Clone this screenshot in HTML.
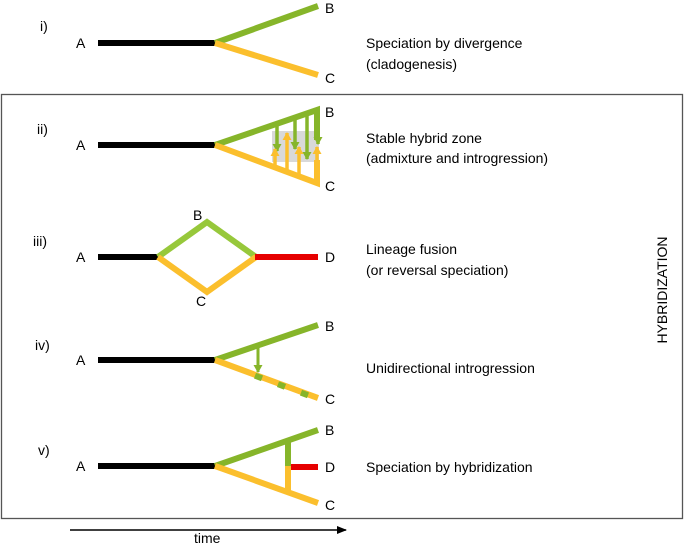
<!DOCTYPE html>
<html><head><style>
body{margin:0;background:#fff;}
svg text{font-family:"Liberation Sans",sans-serif;font-size:14px;fill:#000;}
</style></head><body>
<svg width="685" height="544" viewBox="0 0 685 544" xmlns="http://www.w3.org/2000/svg">
<defs>
<marker id="ag" markerWidth="8" markerHeight="9" refX="7" refY="4.5" orient="auto" markerUnits="userSpaceOnUse"><path d="M0,0 L8,4.5 L0,9 z" fill="#86b52a"/></marker>
<marker id="ay" markerWidth="8" markerHeight="9" refX="7" refY="4.5" orient="auto" markerUnits="userSpaceOnUse"><path d="M0,0 L8,4.5 L0,9 z" fill="#fbbf2d"/></marker>
<marker id="ak" markerWidth="10" markerHeight="8" refX="9" refY="4" orient="auto" markerUnits="userSpaceOnUse"><path d="M0,0 L10,4 L0,8 z" fill="#000"/></marker>
</defs>
<rect x="1.5" y="94.5" width="681" height="424" fill="none" stroke="#555" stroke-width="1.3"/>
<g stroke-width="6" fill="none" stroke-linecap="butt">
<!-- i -->
<line x1="98" y1="43" x2="216" y2="43" stroke="#000"/>
<line x1="215" y1="43" x2="318" y2="6" stroke="#86b52a"/>
<line x1="215" y1="43" x2="318" y2="75" stroke="#fbbf2d"/>
<!-- ii -->
<rect x="272" y="131" width="47" height="31" fill="#d9d9d9" stroke="none"/>
<line x1="98" y1="145" x2="216" y2="145" stroke="#000"/>
<polyline points="215,145 317,110 317,140" stroke="#86b52a"/>
<polyline points="215,145 317,183 317,160" stroke="#fbbf2d"/>
<g stroke-width="3.5">
<line x1="277" y1="124" x2="277" y2="151" stroke="#86b52a" marker-end="url(#ag)"/>
<line x1="295" y1="118" x2="295" y2="149" stroke="#86b52a" marker-end="url(#ag)"/>
<line x1="307" y1="114" x2="307" y2="159" stroke="#86b52a" marker-end="url(#ag)"/>
<line x1="318" y1="130" x2="318" y2="144" stroke="#86b52a" marker-end="url(#ag)"/>
<line x1="275" y1="166" x2="275" y2="149" stroke="#fbbf2d" marker-end="url(#ay)"/>
<line x1="287" y1="170" x2="287" y2="133" stroke="#fbbf2d" marker-end="url(#ay)"/>
<line x1="299" y1="175" x2="299" y2="147" stroke="#fbbf2d" marker-end="url(#ay)"/>
<line x1="317" y1="170" x2="317" y2="147" stroke="#fbbf2d" marker-end="url(#ay)"/>
</g>
<!-- iii -->
<line x1="98" y1="257" x2="159" y2="257" stroke="#000"/>
<polyline points="158,257 207,222 256,257" stroke="#97c83b"/>
<polyline points="158,257 207,292 256,257" stroke="#fbbf2d"/>
<line x1="255" y1="257" x2="318" y2="257" stroke="#e60000"/>
<!-- iv -->
<line x1="98" y1="360" x2="216" y2="360" stroke="#000"/>
<line x1="215" y1="360" x2="318" y2="325" stroke="#86b52a"/>
<line x1="215" y1="360" x2="318" y2="398" stroke="#fbbf2d"/>
<line x1="258" y1="346" x2="258" y2="372" stroke="#86b52a" stroke-width="3" marker-end="url(#ag)"/>
<g stroke="#86b52a">
<line x1="255" y1="375.7" x2="262" y2="378.3"/>
<line x1="278" y1="384.2" x2="285" y2="386.8"/>
<line x1="301" y1="392.7" x2="308" y2="395.3"/>
</g>
<!-- v -->
<line x1="98" y1="466" x2="216" y2="466" stroke="#000"/>
<line x1="215" y1="466" x2="318" y2="430" stroke="#86b52a"/>
<line x1="215" y1="466" x2="318" y2="503" stroke="#fbbf2d"/>
<line x1="288" y1="441" x2="288" y2="467" stroke="#86b52a"/>
<line x1="288" y1="466" x2="288" y2="492" stroke="#fbbf2d"/>
<line x1="291" y1="467" x2="318" y2="467" stroke="#e60000"/>
</g>
<line x1="70" y1="530" x2="346" y2="530" stroke="#000" stroke-width="1.5" marker-end="url(#ak)"/>
<text x="194" y="543">time</text>
<text x="40" y="31">i)</text>
<text x="37" y="134">ii)</text>
<text x="33" y="246">iii)</text>
<text x="35" y="350">iv)</text>
<text x="38" y="455">v)</text>
<g>
<text x="76" y="48">A</text><text x="76" y="150">A</text><text x="76" y="262">A</text><text x="76" y="365">A</text><text x="76" y="471">A</text>
<text x="325" y="13">B</text><text x="325" y="83">C</text>
<text x="325" y="117">B</text><text x="325" y="191">C</text>
<text x="193" y="220">B</text><text x="196" y="306">C</text><text x="325" y="262">D</text>
<text x="325" y="331">B</text><text x="325" y="404">C</text>
<text x="325" y="435">B</text><text x="325" y="472">D</text><text x="325" y="510">C</text>
</g>
<text x="366" y="48">Speciation by divergence</text>
<text x="366" y="69">(cladogenesis)</text>
<text x="366" y="143">Stable hybrid zone</text>
<text x="366" y="163">(admixture and introgression)</text>
<text x="366" y="254">Lineage fusion</text>
<text x="366" y="275">(or reversal speciation)</text>
<text x="366" y="373">Unidirectional introgression</text>
<text x="366" y="472">Speciation by hybridization</text>
<text transform="translate(667,290) rotate(-90)" text-anchor="middle">HYBRIDIZATION</text>
</svg>
</body></html>
